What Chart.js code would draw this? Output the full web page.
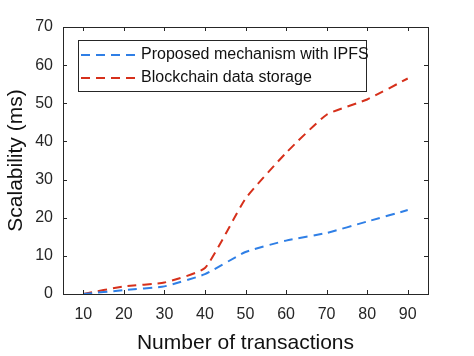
<!DOCTYPE html>
<html>
<head>
<meta charset="utf-8">
<script src="https://cdn.jsdelivr.net/npm/chart.js@4"></script>
<style>
html,body{margin:0;padding:0;background:#fff;}
#wrap{width:474px;height:356px;position:relative;}
</style>
</head>
<body>
<div id="wrap"><canvas id="c" width="474" height="356"></canvas></div>
<script>
const transactions = [10, 20, 30, 40, 50, 60, 70, 80, 90];
const ipfsValues = [0, 1, 2, 5.2, 11, 14, 16, 19, 22];
const blockchainValues = [0, 2, 3, 6.8, 25, 37, 47, 51, 56.5];
const xTickLabels = [10, 20, 30, 40, 50, 60, 70, 80, 90];
const yTickLabels = [0, 10, 20, 30, 40, 50, 60, 70];
const seriesNames = ['Proposed mechanism with IPFS', 'Blockchain data storage'];

const BLUE = '#2f7fe6';
const RED = '#d6301b';
const AX = '#262626';
const FONT = "'Liberation Sans', Arial, sans-serif";

const frame = {
  id: 'frame',
  afterDraw(chart) {
    const {ctx, chartArea: a, scales} = chart;
    ctx.save();
    ctx.strokeStyle = AX;
    ctx.lineWidth = 1;
    ctx.strokeRect(Math.round(a.left) + 0.5, Math.round(a.top) + 0.5, Math.round(a.right - a.left), Math.round(a.bottom - a.top));
    const tl = 4;
    ctx.beginPath();
    xTickLabels.forEach(v => {
      const x = Math.round(scales.x.getPixelForValue(v)) + 0.5;
      ctx.moveTo(x, a.bottom); ctx.lineTo(x, a.bottom - tl);
      ctx.moveTo(x, a.top); ctx.lineTo(x, a.top + tl);
    });
    yTickLabels.forEach(v => {
      const y = Math.round(scales.y.getPixelForValue(v)) + 0.5;
      ctx.moveTo(a.left, y); ctx.lineTo(a.left + tl, y);
      ctx.moveTo(a.right, y); ctx.lineTo(a.right - tl, y);
    });
    ctx.stroke();

    // legend box
    const bx = 78, by = 40, bw = 288, bh = 51;
    ctx.fillStyle = '#fff';
    ctx.fillRect(bx, by, bw, bh);
    ctx.strokeRect(bx + 0.5, by + 0.5, bw, bh);
    const rows = [[BLUE, seriesNames[0], 55], [RED, seriesNames[1], 78]];
    ctx.font = '16px ' + FONT;
    ctx.textBaseline = 'middle';
    rows.forEach(([col, txt, y]) => {
      ctx.strokeStyle = col;
      ctx.lineWidth = 2;
      ctx.setLineDash([9, 6]);
      ctx.beginPath();
      ctx.moveTo(81, y); ctx.lineTo(138, y);
      ctx.stroke();
      ctx.setLineDash([]);
      ctx.fillStyle = '#111';
      ctx.fillText(txt, 141, y);
    });
    ctx.restore();
  }
};

new Chart(document.getElementById('c'), {
  type: 'line',
  data: {
    datasets: [
      {
        label: seriesNames[0],
        data: transactions.map((x, i) => ({x, y: ipfsValues[i]})),
        borderColor: BLUE, borderWidth: 2, borderDash: [9, 6],
        pointRadius: 0, fill: false, tension: 0.15
      },
      {
        label: seriesNames[1],
        data: transactions.map((x, i) => ({x, y: blockchainValues[i]})),
        borderColor: RED, borderWidth: 2, borderDash: [9, 6],
        pointRadius: 0, fill: false, tension: 0.15
      }
    ]
  },
  options: {
    responsive: false,
    animation: false,
    layout: {padding: {top: 27, right: 46, left: 0, bottom: 0}},
    plugins: {legend: {display: false}, tooltip: {enabled: false}},
    scales: {
      x: {
        type: 'linear', min: 5, max: 95,
        afterBuildTicks: s => { s.ticks = xTickLabels.map(v => ({value: v})); },
        afterFit: s => { s.height = 62; },
        grid: {display: false, drawTicks: false},
        border: {display: false},
        ticks: {color: AX, font: {family: FONT, size: 16}, padding: 11, maxRotation: 0},
        title: {display: true, text: 'Number of transactions', color: '#111', font: {family: FONT, size: 21}, padding: {top: 2, bottom: 0}}
      },
      y: {
        type: 'linear', min: 0, max: 70,
        afterBuildTicks: s => { s.ticks = yTickLabels.map(v => ({value: v})); },
        afterFit: s => { s.width = 63; },
        grid: {display: false, drawTicks: false},
        border: {display: false},
        ticks: {color: AX, font: {family: FONT, size: 16}, padding: 10},
        title: {display: true, text: 'Scalability (ms)', color: '#111', font: {family: FONT, size: 21}, padding: {top: 4, bottom: 0}}
      }
    }
  },
  plugins: [frame]
});
</script>
</body>
</html>
